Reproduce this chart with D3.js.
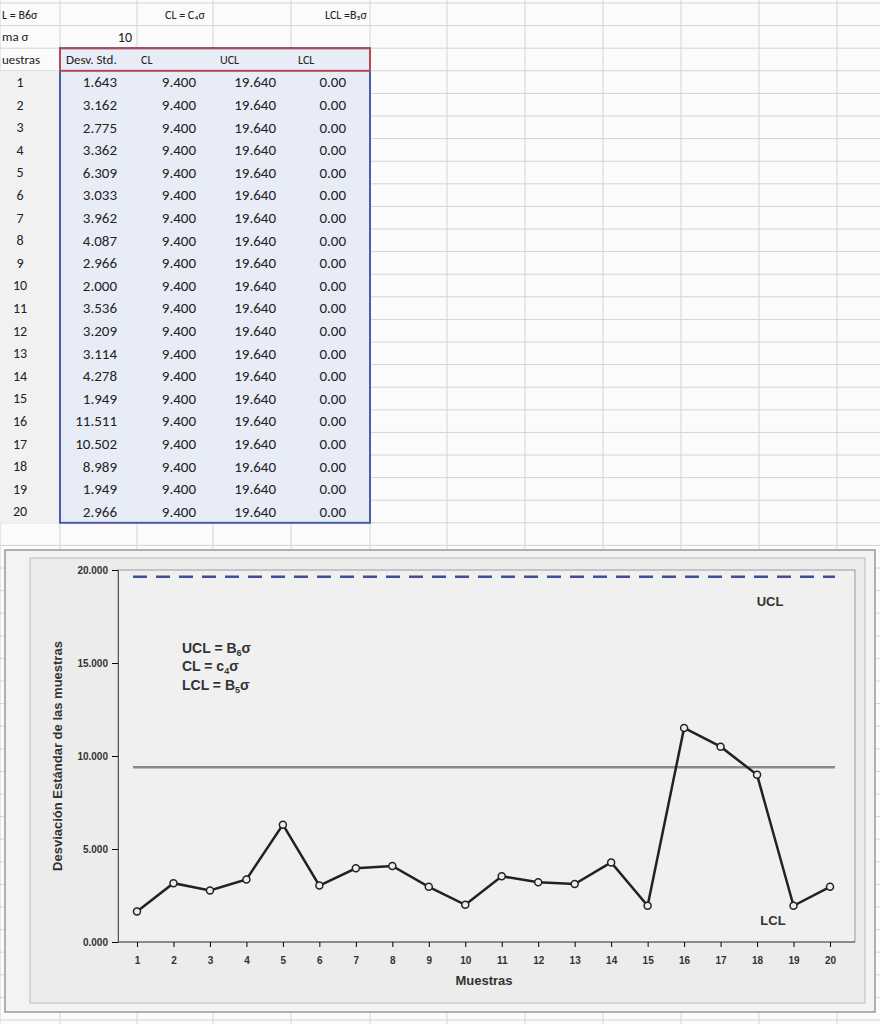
<!DOCTYPE html>
<html><head><meta charset="utf-8">
<script src="https://cdn.jsdelivr.net/npm/d3@7"></script>
<style>body{margin:0;background:#fff}svg{display:block;font-family:Calibri,"Liberation Sans",Arial,sans-serif}.ch{font-family:"Liberation Sans",Arial,sans-serif}</style>
</head><body><svg id="c" width="880" height="1024"></svg>
<script>
const samples = d3.range(1, 21);
const stdDev = [1.643,3.162,2.775,3.362,6.309,3.033,3.962,4.087,2.966,2.000,3.536,3.209,3.114,4.278,1.949,11.511,10.502,8.989,1.949,2.966];
const clVal = 9.4, uclVal = 19.64, lclVal = 0;
const yTicks = [0, 5, 10, 15, 20];

const svg = d3.select("#c");
svg.append("rect").attr("width", 880).attr("height", 1024).attr("fill", "#fbfbfb");

// spreadsheet grid
const colEdges = [0, 60, 137, 213, 291, 370, 447, 525, 603, 681, 759, 837, 915];
const rowH = 22.6, row0 = 3;
const grid = svg.append("g").attr("stroke", "#d4d4d4").attr("stroke-width", 1);
colEdges.forEach(x => grid.append("line").attr("x1", x).attr("x2", x).attr("y1", 0).attr("y2", 1024));
for (let i = 0; i < 46; i++) grid.append("line").attr("x1", 0).attr("x2", 880).attr("y1", row0 + i * rowH).attr("y2", row0 + i * rowH);

// table
const rowY = i => row0 + rowH * (i + 0.5);
const txt = (x, y, s, anchor, fs) => svg.append("text").attr("x", x).attr("y", y).attr("dy", "0.35em")
  .attr("text-anchor", anchor || "start").attr("font-size", fs || 14).attr("fill", "#222").text(s);
svg.append("rect").attr("x", 60).attr("y", row0 + rowH * 2).attr("width", 310).attr("height", rowH * 21)
  .attr("fill", "#e8ecf6");
svg.append("rect").attr("x", 0).attr("y", row0 + rowH * 3).attr("width", 60).attr("height", rowH * 20).attr("fill", "#f1f1f1");
txt(2, rowY(0), "L = B6σ", "start", 12);
txt(165, rowY(0), "CL = C₄σ", "start", 12);
txt(325, rowY(0), "LCL =B₅σ", "start", 12);
txt(2, rowY(1), "ma σ", "start", 13);
txt(132, rowY(1), "10", "end", 14);
txt(2, rowY(2), "uestras", "start", 13);
txt(66, rowY(2), "Desv. Std.", "start", 13);
txt(141, rowY(2), "CL", "start", 12);
txt(220, rowY(2), "UCL", "start", 12);
txt(298, rowY(2), "LCL", "start", 12);
samples.forEach((s, i) => {
  const y = rowY(i + 3);
  txt(20, y, s, "middle", 14);
  txt(117, y, stdDev[i].toFixed(3), "end", 15);
  txt(196, y, clVal.toFixed(3), "end", 15);
  txt(276, y, uclVal.toFixed(3), "end", 15);
  txt(346, y, lclVal.toFixed(2), "end", 15);
});
svg.append("rect").attr("x", 60).attr("y", row0 + rowH * 2).attr("width", 310).attr("height", rowH * 21)
  .attr("fill", "none").attr("stroke", "#4a5ea8").attr("stroke-width", 2);
svg.append("rect").attr("x", 60).attr("y", row0 + rowH * 2).attr("width", 310).attr("height", rowH)
  .attr("fill", "none").attr("stroke", "#b04a55").attr("stroke-width", 2);

// chart frame
const chart = svg.append("g").attr("class", "ch");
chart.append("rect").attr("x", 5).attr("y", 550).attr("width", 870).attr("height", 462)
  .attr("fill", "#f3f3f3").attr("stroke", "#999").attr("stroke-width", 1.5);
chart.append("rect").attr("x", 30).attr("y", 558).attr("width", 835).attr("height", 445)
  .attr("fill", "#ececec").attr("stroke", "#bbb");

const m = {left: 118, right: 855, top: 570, bottom: 942};
chart.append("rect").attr("x", m.left).attr("y", m.top).attr("width", m.right - m.left).attr("height", m.bottom - m.top)
  .attr("fill", "#f0f0f0").attr("stroke", "#999");
const x = d3.scaleLinear().domain([1, 20]).range([137, 830]);
const y = d3.scaleLinear().domain([0, 20]).range([m.bottom, m.top]);

const g = chart.append("g");
g.append("g").attr("transform", `translate(${m.left},0)`)
  .call(d3.axisLeft(y).tickValues(yTicks).tickFormat(d3.format(".3f")).tickSize(6))
  .call(a => a.select(".domain").attr("stroke", "#555"))
  .call(a => a.selectAll("text").attr("font-family", "Liberation Sans, Arial").attr("font-size", 10).attr("font-weight", "bold").attr("fill", "#333").attr("x", -10));
g.append("g").attr("transform", `translate(0,${m.bottom})`)
  .call(d3.axisBottom(x).tickValues(samples).tickFormat(d3.format("d")).tickSize(5))
  .call(a => a.select(".domain").attr("d", `M${m.left},0H${m.right}`).attr("stroke", "#555"))
  .call(a => a.selectAll("text").attr("font-family", "Liberation Sans, Arial").attr("font-size", 10).attr("font-weight", "bold").attr("fill", "#333").attr("dy", "1.4em"));

g.append("line").attr("x1", m.left + 15).attr("x2", m.right - 20).attr("y1", y(uclVal)).attr("y2", y(uclVal))
  .attr("stroke", "#3f4f9a").attr("stroke-width", 2.5).attr("stroke-dasharray", "14,9");
g.append("line").attr("x1", m.left + 15).attr("x2", m.right - 20).attr("y1", y(clVal)).attr("y2", y(clVal))
  .attr("stroke", "#8a8a8a").attr("stroke-width", 2.5);

const line = d3.line().x((d, i) => x(samples[i])).y(d => y(d));
g.append("path").datum(stdDev).attr("d", line).attr("fill", "none").attr("stroke", "#222").attr("stroke-width", 2.5);
g.selectAll("circle").data(stdDev).join("circle")
  .attr("cx", (d, i) => x(samples[i])).attr("cy", d => y(d)).attr("r", 3.5)
  .attr("fill", "#eee").attr("stroke", "#222").attr("stroke-width", 1.5);

const lab = (xx, yy, fs, anchor) => chart.append("text").attr("x", xx).attr("y", yy).attr("font-size", fs)
  .attr("font-weight", "bold").attr("fill", "#333").attr("text-anchor", anchor || "start");
lab(770, 606, 13, "middle").text("UCL");
lab(773, 925, 13, "middle").text("LCL");
lab(484, 985, 13, "middle").text("Muestras");
lab(0, 0, 13, "middle").attr("transform", "translate(62,756) rotate(-90)").text("Desviación Estándar de las muestras");
const eq = (yy, a, sub, b) => {
  const t = lab(182, yy, 14);
  t.append("tspan").text(a);
  t.append("tspan").attr("font-size", 9).attr("dy", 3).text(sub);
  t.append("tspan").attr("dy", -3).text(b);
};
eq(653, "UCL = B", "6", "σ");
eq(671, "CL = c", "4", "σ");
eq(690, "LCL = B", "5", "σ");
</script></body></html>
